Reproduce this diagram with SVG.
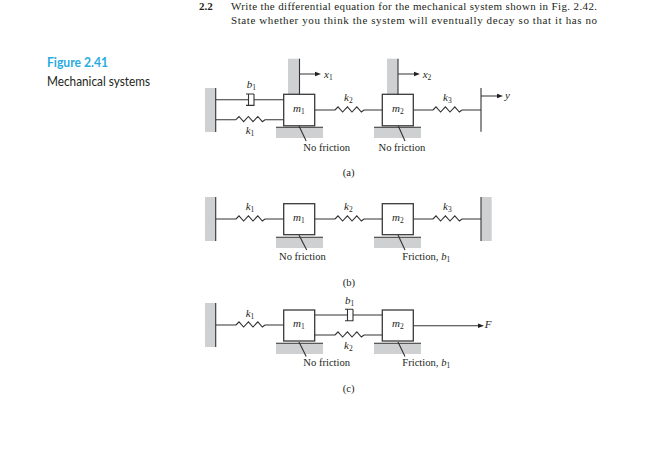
<svg xmlns="http://www.w3.org/2000/svg" width="656" height="458" viewBox="0 0 656 458">
<style>
.t{font-family:"Liberation Serif",serif;font-size:10.6px;fill:#231f20}
.h{font-family:"Liberation Serif",serif;font-size:11px;fill:#231f20}
.i{font-family:"Liberation Serif",serif;font-size:11px;font-style:italic;fill:#231f20}
.s{font-size:7.5px;font-style:normal}
.n{font-family:"Lato","Open Sans",sans-serif;font-size:12.5px;fill:#231f20}
.l{fill:none;stroke:#333;stroke-width:1.1}
.m{fill:#fff;stroke:#3a3a3a;stroke-width:1.3}
.g{fill:#cfd0d2}
.a{fill:#231f20}
</style>
<defs>
<path id="spring" class="l" d="M0 0 L3 -3.2 L7.6 2 L12.4 -3.2 L17 2 L21.8 -3.2 L26.4 2 L29 0"/>
<path id="damper" class="l" d="M8 -5.7 H0 M8 -5.7 V5.7 H0 M2.5 -5.7 V5.7"/>
<path id="head" class="a" d="M0 -2.2 L6 0 L0 2.2 Z"/>
<g id="wall"><rect class="g" x="0" y="0" width="10.7" height="44"/><path class="l" d="M10.7 0 V44"/></g>
<g id="ground"><rect class="g" x="0" y="0" width="47" height="11"/><path class="l" d="M0 0.3 H47"/></g>
</defs>

<g id="problem">
<text class="h" x="199" y="10" style="font-weight:bold">2.2</text>
<text class="h" x="231" y="10" textLength="366" lengthAdjust="spacing">Write the differential equation for the mechanical system shown in Fig. 2.42.</text>
<text class="h" x="231" y="24" textLength="366" lengthAdjust="spacing">State whether you think the system will eventually decay so that it has no</text>
</g>
<g id="caption">
<text class="n" x="47" y="67" style="fill:#29abe2;font-weight:bold" textLength="61" lengthAdjust="spacingAndGlyphs">Figure 2.41</text>
<text class="n" x="47" y="86" textLength="103" lengthAdjust="spacingAndGlyphs">Mechanical systems</text>
</g>

<g id="a-wall"><use href="#wall" x="205" y="88"/></g>
<g id="a-post1"><rect class="g" x="288" y="58.7" width="11.2" height="35.5"/><path class="l" d="M299.5 58.7 V94"/></g>
<g id="a-post2"><rect class="g" x="387" y="58.7" width="11" height="35.5"/><path class="l" d="M398 58.7 V94"/></g>
<g id="a-bar"><path class="l" d="M481 88 V131.7"/></g>
<g id="a-ground1"><use href="#ground" x="276" y="127"/></g>
<g id="a-ground2"><use href="#ground" x="374" y="127"/></g>
<g id="a-m1"><rect class="m" x="283.7" y="94.3" width="31" height="31.5"/><text class="i" x="293" y="111.7">m<tspan class="s" dy="2">1</tspan></text></g>
<g id="a-m2"><rect class="m" x="382.3" y="94.3" width="31" height="31.5"/><text class="i" x="392" y="111.7">m<tspan class="s" dy="2">2</tspan></text></g>
<g id="a-labels">
<text class="i" x="246.7" y="87.7">b<tspan class="s" dy="2">1</tspan></text>
<text class="i" x="245.7" y="134">k<tspan class="s" dy="2">1</tspan></text>
<text class="i" x="344" y="100.7">k<tspan class="s" dy="2">2</tspan></text>
<text class="i" x="443" y="100.7">k<tspan class="s" dy="2">3</tspan></text>
<text class="i" x="324" y="78">x<tspan class="s" dy="2">1</tspan></text>
<text class="i" x="422.7" y="78">x<tspan class="s" dy="2">2</tspan></text>
<text class="i" x="505" y="99">y</text>
<text class="t" x="303.3" y="151">No friction</text>
<text class="t" x="378.5" y="151">No friction</text>
<text class="t" x="342.7" y="176">(a)</text>
</g>

<g id="b-wall1"><use href="#wall" x="205" y="197"/></g>
<g id="b-wall2"><rect class="g" x="481" y="197" width="10.7" height="44"/><path class="l" d="M481 197 V241"/></g>
<g id="b-ground1"><use href="#ground" x="276" y="237"/></g>
<g id="b-ground2"><use href="#ground" x="374" y="237"/></g>
<g id="b-m1"><rect class="m" x="283.7" y="203.7" width="31" height="31"/><text class="i" x="293" y="221">m<tspan class="s" dy="2">1</tspan></text></g>
<g id="b-m2"><rect class="m" x="382.3" y="203.7" width="31" height="31"/><text class="i" x="392" y="221">m<tspan class="s" dy="2">2</tspan></text></g>
<g id="b-labels">
<text class="i" x="245.7" y="210">k<tspan class="s" dy="2">1</tspan></text>
<text class="i" x="344" y="210">k<tspan class="s" dy="2">2</tspan></text>
<text class="i" x="443" y="210">k<tspan class="s" dy="2">3</tspan></text>
<text class="t" x="279" y="260">No friction</text>
<text class="t" x="402.3" y="260">Friction, <tspan style="font-style:italic">b</tspan><tspan class="s" dy="2">1</tspan></text>
<text class="t" x="342.7" y="285.7">(b)</text>
</g>

<g id="c-wall"><use href="#wall" x="205" y="303"/></g>
<g id="c-ground1"><use href="#ground" x="276" y="343"/></g>
<g id="c-ground2"><use href="#ground" x="374" y="343"/></g>
<g id="c-m1"><rect class="m" x="283.7" y="310" width="31" height="31"/><text class="i" x="293" y="327.3">m<tspan class="s" dy="2">1</tspan></text></g>
<g id="c-m2"><rect class="m" x="382.3" y="310" width="31" height="31"/><text class="i" x="392" y="327.3">m<tspan class="s" dy="2">2</tspan></text></g>
<g id="c-labels">
<text class="i" x="245.7" y="316.7">k<tspan class="s" dy="2">1</tspan></text>
<text class="i" x="345" y="304">b<tspan class="s" dy="2">1</tspan></text>
<text class="i" x="344" y="349">k<tspan class="s" dy="2">2</tspan></text>
<text class="i" x="484.7" y="328">F</text>
<text class="t" x="303.3" y="366">No friction</text>
<text class="t" x="402.3" y="366">Friction, <tspan style="font-style:italic">b</tspan><tspan class="s" dy="2">1</tspan></text>
<text class="t" x="342.7" y="392">(c)</text>
</g>

<g id="connectors">
<!-- a -->
<path class="l" d="M215.7 99.7 H248.5 M254 99.7 H283.7"/>
<use href="#damper" x="246" y="99.7"/>
<path class="l" d="M215.7 119.7 H236 M265 119.7 H283.7"/>
<use href="#spring" x="236" y="119.7"/>
<path class="l" d="M314.7 110 H335 M364 110 H382.3"/>
<use href="#spring" x="335" y="110"/>
<path class="l" d="M413.3 110 H433 M462 110 H481"/>
<use href="#spring" x="433" y="110"/>
<path class="l" d="M299.5 74 H315 M398 74 H414 M481 96 H497 M299 126 L306.2 141 M398.3 126 L405 141"/>
<use href="#head" x="315" y="74"/><use href="#head" x="414" y="74"/><use href="#head" x="497" y="96"/>
<!-- b -->
<path class="l" d="M215.7 219 H236 M265 219 H283.7 M314.7 219 H335 M364 219 H382.3 M413.3 219 H433 M462 219 H481"/>
<use href="#spring" x="236" y="219"/><use href="#spring" x="335" y="219"/><use href="#spring" x="433" y="219"/>
<path class="l" d="M299 235 L306.7 250 M398 235 L405 250"/>
<!-- c -->
<path class="l" d="M215.7 325 H236 M265 325 H283.7 M314.7 315 H347.5 M353 315 H382.3 M314.7 335 H335 M364 335 H382.3"/>
<use href="#spring" x="236" y="325"/><use href="#spring" x="335" y="335"/>
<use href="#damper" x="345" y="315"/>
<path class="l" d="M413.3 325.7 H478"/>
<use href="#head" x="478" y="325.7"/>
<path class="l" d="M299 342 L306.2 356.5 M398 342 L405 356.5"/>
</g>
</svg>
